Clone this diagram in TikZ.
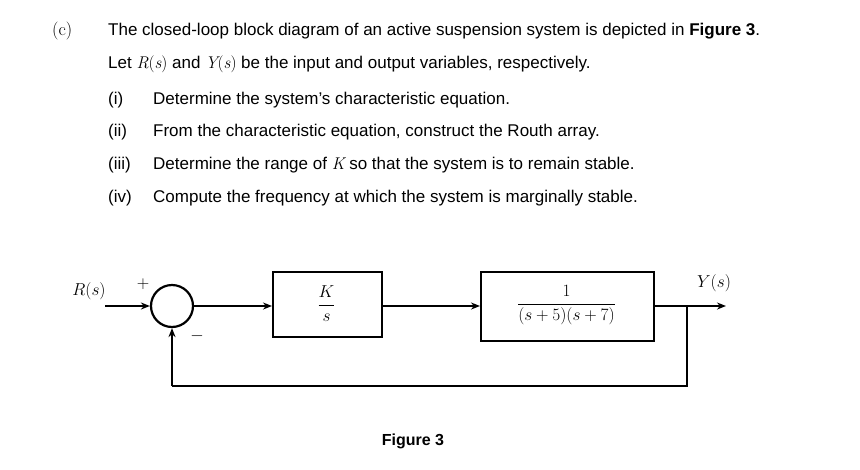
\documentclass[tikz,border=0pt]{standalone}
\usepackage{amsmath}
\usepackage{fontspec}
\setmainfont{Latin Modern Roman}
\newfontfamily\txt{Liberation Sans}
\usetikzlibrary{arrows.meta}
\begin{document}
\begin{tikzpicture}[x=1pt,y=-1pt,
  blk/.style={draw,line width=2.2pt,minimum width=109pt,minimum height=65pt,anchor=north west,inner sep=0pt},
  sig/.style={line width=2.2pt,-{Stealth[length=9pt,width=7pt]}},
  ln/.style={line width=2.2pt},
  mth/.style={font=\fontsize{18}{20}\selectfont},
  t/.style={anchor=base west,inner sep=0pt,font=\txt\fontsize{17}{20}\selectfont}]
\useasboundingbox (0,0) rectangle (860,469);
\node[anchor=base west,inner sep=0pt,font=\fontsize{18}{20}\selectfont] (c) at (52,35) {(c)};
\node[t] (l1) at (108,35) {The closed-loop block diagram of an active suspension system is depicted in \textbf{Figure 3}.};
\node[t] (l2) at (108,68) {Let \rmfamily\itshape R\upshape(\itshape s\upshape)\txt\ and \rmfamily\itshape Y\upshape(\itshape s\upshape)\txt\ be the input and output variables, respectively.};
\node[t] (i1) at (108,104) {(i)};
\node[t] (q1) at (153,104) {Determine the system’s characteristic equation.};
\node[t] (i2) at (108,136) {(ii)};
\node[t] (q2) at (153,136) {From the characteristic equation, construct the Routh array.};
\node[t] (i3) at (108,169) {(iii)};
\node[t] (q3) at (153,169) {Determine the range of \rmfamily\itshape K\txt\upshape\ so that the system is to remain stable.};
\node[t] (i4) at (108,202) {(iv)};
\node[t] (q4) at (153,202) {Compute the frequency at which the system is marginally stable.};
% diagram
\coordinate (in) at (105,306);
\node[draw,circle,line width=2.2pt,minimum size=42pt,inner sep=0pt] (sum) at (172,306) {};
\node[blk] (g1) at (272,271) {};
\node[mth] (g1t) at (326.5,303.5) {$\dfrac{K}{s}$};
\node[blk,minimum width=173pt,minimum height=69pt] (g2) at (480,271) {};
\node[mth] (g2t) at (566.5,305) {$\dfrac{1}{(s+5)(s+7)}$};
\coordinate (br) at (687,306);
\coordinate (out) at (726,306);
\coordinate (fb) at (687,386);
\coordinate (fb2) at (172,386);
\draw[sig] (in) -- (sum.west);
\draw[sig] (sum.east) -- (g1.west |- sum.east);
\draw[sig] (g1.east |- sum.east) -- (g2.west |- sum.east);
\draw[sig] (g2.east |- sum.east) -- (out);
\draw[ln] (br) -- (fb) -- (fb2);
\draw[sig] (fb2) -- (sum.south);
\node[mth] (R) at (89,291) {$R(s)$};
\node[mth] (Y) at (714,283) {$Y(s)$};
\node[mth] (p) at (143,284) {$+$};
\node[mth] (m) at (197,336) {$-$};
\node[anchor=base,inner sep=0pt,font=\txt\bfseries\fontsize{16}{19}\selectfont] (f) at (413,445) {Figure 3};
\end{tikzpicture}
\end{document}
